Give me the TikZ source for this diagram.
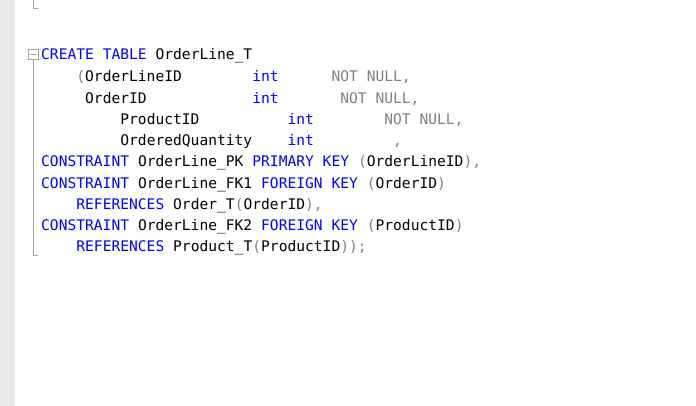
\documentclass[tikz,border=0pt]{standalone}
\usepackage{fontspec}
\setmonofont{DejaVu Sans Mono}
\definecolor{kw}{HTML}{0000FF}
\definecolor{gr}{HTML}{808080}
\definecolor{fold}{HTML}{A5A5A5}
\tikzset{seg/.style={anchor=base west,inner sep=0pt,font=\fontsize{14.6}{16}\ttfamily}}
\newcommand{\sg}[4]{\node[seg,text=#3] at ({41+8.8*#1},{-#2-1.5}) {#4};}
\begin{document}
\begin{tikzpicture}[x=1pt,y=1pt]
\useasboundingbox[fill=white] (0,0) rectangle (696,-406);
\fill[black!9] (0,0) rectangle (15,-406);
\draw[fold] (33,0) -- (33,-8) -- (38,-8);
\draw[fold] (33,-58) -- (33,-255) -- (38,-255);
\draw[fold,fill=white] (28,-49) rectangle (38,-59);
\draw[fold] (30,-54) -- (36,-54);
\sg{0}{58}{kw}{CREATE}
\sg{7}{58}{kw}{TABLE}
\sg{13}{58}{black}{OrderLine\_T}
\sg{4}{80}{gr}{(}
\sg{5}{80}{black}{OrderLineID}
\sg{24}{80}{kw}{int}
\sg{33}{80}{gr}{NOT NULL,}
\sg{5}{102}{black}{OrderID}
\sg{24}{102}{kw}{int}
\sg{34}{102}{gr}{NOT NULL,}
\sg{9}{123}{black}{ProductID}
\sg{28}{123}{kw}{int}
\sg{39}{123}{gr}{NOT NULL,}
\sg{9}{144}{black}{OrderedQuantity}
\sg{28}{144}{kw}{int}
\sg{40}{144}{gr}{,}
\sg{0}{165}{kw}{CONSTRAINT}
\sg{11}{165}{black}{OrderLine\_PK}
\sg{24}{165}{kw}{PRIMARY KEY}
\sg{36}{165}{gr}{(}
\sg{37}{165}{black}{OrderLineID}
\sg{48}{165}{gr}{),}
\sg{0}{187}{kw}{CONSTRAINT}
\sg{11}{187}{black}{OrderLine\_FK1}
\sg{25}{187}{kw}{FOREIGN KEY}
\sg{37}{187}{gr}{(}
\sg{38}{187}{black}{OrderID}
\sg{45}{187}{gr}{)}
\sg{4}{208}{kw}{REFERENCES}
\sg{15}{208}{black}{Order\_T}
\sg{22}{208}{gr}{(}
\sg{23}{208}{black}{OrderID}
\sg{30}{208}{gr}{),}
\sg{0}{229}{kw}{CONSTRAINT}
\sg{11}{229}{black}{OrderLine\_FK2}
\sg{25}{229}{kw}{FOREIGN KEY}
\sg{37}{229}{gr}{(}
\sg{38}{229}{black}{ProductID}
\sg{47}{229}{gr}{)}
\sg{4}{250}{kw}{REFERENCES}
\sg{15}{250}{black}{Product\_T}
\sg{24}{250}{gr}{(}
\sg{25}{250}{black}{ProductID}
\sg{34}{250}{gr}{));}
\end{tikzpicture}
\end{document}
